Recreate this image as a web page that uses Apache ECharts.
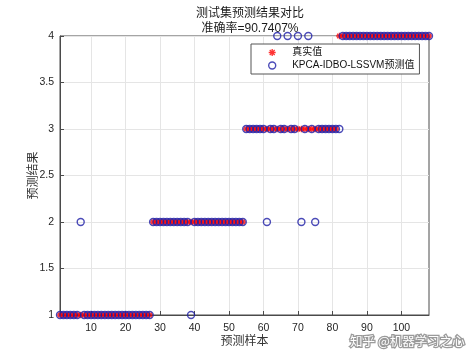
<!DOCTYPE html>
<html><head><meta charset="utf-8">
<script src="https://cdn.jsdelivr.net/npm/echarts@6/dist/echarts.min.js"></script>
<style>html,body{margin:0;padding:0;background:#fff}#c{width:474px;height:355px}</style>
</head><body><div id="c"></div>
<script>
const titleLines = ['测试集预测结果对比', '准确率=90.7407%'];
const seriesNames = ['真实值', 'KPCA-IDBO-LSSVM预测值'];
const xTicks = [10, 20, 30, 40, 50, 60, 70, 80, 90, 100];
const yTicks = [1, 1.5, 2, 2.5, 3, 3.5, 4];
const trueValues = [
  1,1,1,1,1,1,1,1,1,1,
  1,1,1,1,1,1,1,1,1,1,
  1,1,1,1,1,1,1,2,2,2,
  2,2,2,2,2,2,2,2,2,2,
  2,2,2,2,2,2,2,2,2,2,
  2,2,2,2,3,3,3,3,3,3,
  3,3,3,3,3,3,3,3,3,3,
  3,3,3,3,3,3,3,3,3,3,
  3,4,4,4,4,4,4,4,4,4,
  4,4,4,4,4,4,4,4,4,4,
  4,4,4,4,4,4,4,4
];
const predValues = [
  1,1,1,1,1,1,2,1,1,1,
  1,1,1,1,1,1,1,1,1,1,
  1,1,1,1,1,1,1,2,2,2,
  2,2,2,2,2,2,2,2,1,2,
  2,2,2,2,2,2,2,2,2,2,
  2,2,2,2,3,3,3,3,3,3,
  2,3,3,4,3,3,4,3,3,4,
  2,3,4,3,2,3,3,3,3,3,
  3,3,4,4,4,4,4,4,4,4,
  4,4,4,4,4,4,4,4,4,4,
  4,4,4,4,4,4,4,4
];
const watermark = '知乎 @机器学习之心';

const toPairs = arr => arr.map((v, i) => [i + 1, v]);
const starPath = 'path://M0,-10L0,10M-10,0L10,0M-7.07,-7.07L7.07,7.07M-7.07,7.07L7.07,-7.07';
const axisCol = '#4a4a4a';
const font = '"Liberation Sans", Arial, sans-serif';
const cjk = '"Liberation Sans", "Noto Sans CJK SC", sans-serif';
const circleCol = '#1e1ea6';

const chart = echarts.init(document.getElementById('c'), null, {renderer: 'canvas'});
chart.setOption({
  backgroundColor: '#ffffff',
  animation: false,
  title: {
    text: titleLines.join('\n'),
    left: 245, textAlign: 'center', top: 1,
    textStyle: {fontSize: 12, fontWeight: 'normal', color: '#1a1a1a', fontFamily: cjk, lineHeight: 15}
  },
  grid: {left: 60, right: 45, top: 36, bottom: 40, show: true, borderColor: axisCol, borderWidth: 1, backgroundColor: '#fff'},
  legend: {
    orient: 'vertical', left: 251, top: 44,
    padding: [2, 5, 2, 17], itemGap: 0,
    itemWidth: 30, itemHeight: 7,
    backgroundColor: '#fff', borderColor: '#555', borderWidth: 1,
    textStyle: {fontSize: 10, color: '#111', fontFamily: cjk, lineHeight: 13},
    data: [
      {name: seriesNames[0], icon: starPath, itemStyle: {color: 'rgba(0,0,0,0)', borderColor: '#ff0000', borderWidth: 1.3}},
      {name: seriesNames[1], icon: 'circle', itemStyle: {color: 'rgba(0,0,0,0)', borderColor: circleCol, borderWidth: 1.4}}
    ]
  },
  xAxis: {
    type: 'value', min: 1, max: 108,
    name: '预测样本', nameLocation: 'middle', nameGap: 21, nameMoveOverlap: false,
    nameTextStyle: {fontSize: 12, color: '#333', fontFamily: cjk},
    axisLine: {show: true, lineStyle: {color: axisCol}},
    axisTick: {show: true, inside: true, length: 4, customValues: xTicks, lineStyle: {color: axisCol}},
    axisLabel: {customValues: xTicks, fontSize: 10.5, color: '#262626', fontFamily: font, margin: 8},
    splitLine: {show: true, lineStyle: {color: '#e5e5e5'}}
  },
  yAxis: {
    type: 'value', min: 1, max: 4, interval: 0.5,
    name: '预测结果', nameLocation: 'middle', nameGap: 20, nameRotate: 90, nameMoveOverlap: false,
    nameTextStyle: {fontSize: 12, color: '#333', fontFamily: cjk},
    axisLine: {show: true, lineStyle: {color: axisCol}},
    axisTick: {show: true, inside: true, length: 4, lineStyle: {color: axisCol}},
    axisLabel: {fontSize: 10.5, color: '#262626', fontFamily: font, margin: 6,
      formatter: v => yTicks.indexOf(v) >= 0 ? String(v) : ''},
    splitLine: {show: true, lineStyle: {color: '#e5e5e5'}}
  },
  series: [
    {
      name: seriesNames[0], type: 'scatter', data: toPairs(trueValues),
      symbol: starPath, symbolSize: 6.5, symbolKeepAspect: true,
      itemStyle: {color: 'rgba(0,0,0,0)', borderColor: '#ff0000', borderWidth: 1.3},
      z: 2
    },
    {
      name: seriesNames[1], type: 'scatter', data: toPairs(predValues),
      symbol: 'circle', symbolSize: 7,
      itemStyle: {color: 'rgba(0,0,0,0)', borderColor: circleCol, borderWidth: 1.4},
      z: 3
    }
  ],
  graphic: [{
    type: 'text', right: 8, bottom: 6, z: 100,
    style: {text: watermark, fontSize: 12.5, fontFamily: '"Noto Sans CJK SC", sans-serif', fill: '#ffffff',
      stroke: '#9a9a9a', lineWidth: 2.5}
  }]
});
</script></body></html>
